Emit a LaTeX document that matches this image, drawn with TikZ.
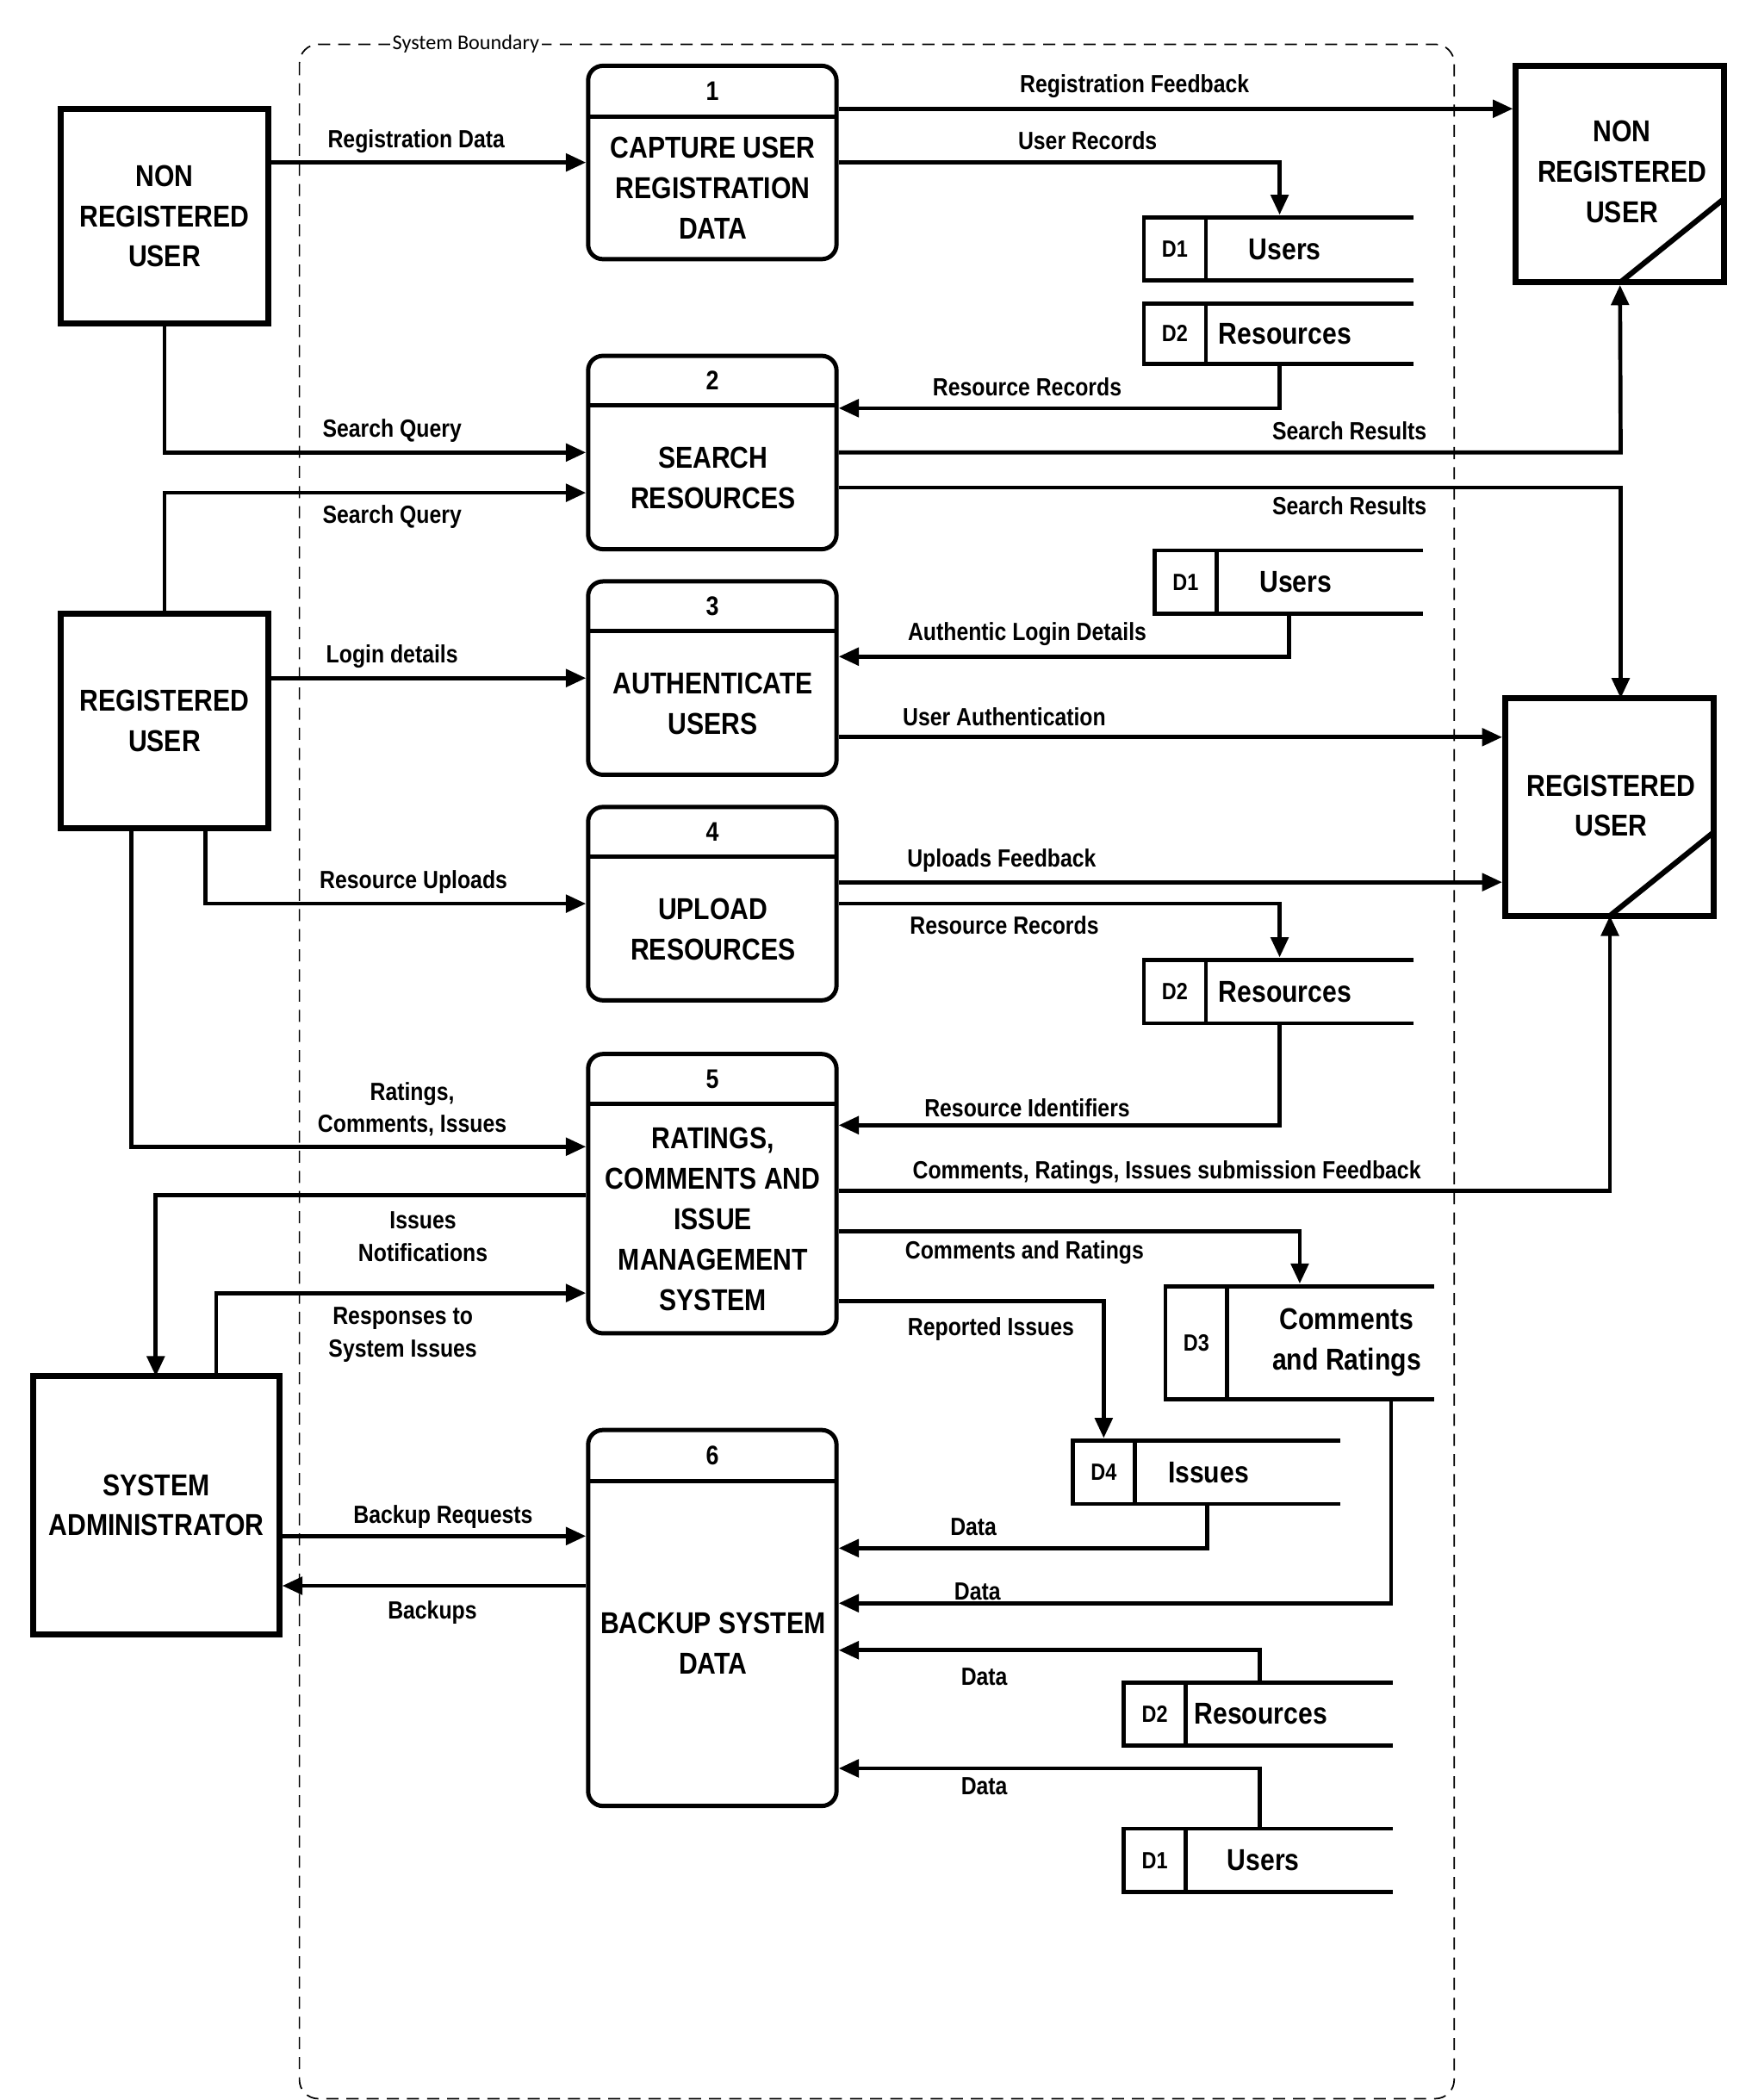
\documentclass[tikz,border=0pt]{standalone}
\usepackage{fontspec}
\setmainfont{Liberation Sans}
\newfontfamily\condfam[FakeStretch=0.86]{Liberation Sans}
\newfontfamily\sbfam{Carlito}
\usetikzlibrary{arrows.meta}
\newcommand\lblfont{\fontsize{18.5}{24}\selectfont\condfam\bfseries}
\newcommand\bxfont{\fontsize{22.5}{30}\selectfont\condfam\bfseries}
\tikzset{
 arr/.style={line width=3pt,-{Triangle[length=15pt,width=13pt]}},
 proc/.style={draw,line width=3.2pt,rounded corners=11pt,minimum width=185pt,inner sep=0pt},
 ext/.style={draw,line width=4.5pt,minimum width=155pt,minimum height=160pt,inner sep=0pt,align=center,font=\bxfont},
 lab/.style={font=\lblfont,align=center,inner sep=0pt},
 st/.style={line width=3pt}
}
% name x1 x2 ytop ybot div id text textx
\newcommand\dstore[9]{%
 \draw[st] (#3,#4)--(#2,#4)--(#2,#5)--(#3,#5);
 \draw[st] (#6,#4)--(#6,#5);
 \node[lab,font=\fontsize{17.5}{20}\selectfont\condfam\bfseries] (#1id) at ({(#2+#6)/2},{(#4+#5)/2}) {#7};
 \node[lab,font=\bxfont] (#1) at (#9,{(#4+#5)/2}) {#8};}
\newcommand\proc[5]{% name ytop ybot yline number
 \node[proc,minimum height={#2-#3}] (#1) at (530.5,{(#2+#3)/2}) {};
 \draw[line width=3pt] (438,#4)--(623,#4);
 \node[lab,font=\fontsize{20}{24}\selectfont\condfam\bfseries] (#1n) at (530.5,{(#2+#4)/2}) {#5};}
\begin{document}
\begin{tikzpicture}[x=1pt,y=1pt]
\useasboundingbox (0,0) rectangle (1300,-1564);
% boundary
\draw[dashed,line width=1.1pt,dash pattern=on 9pt off 6pt,rounded corners=14pt] (223,-33) rectangle (1083,-1563);
\node[fill=white,inner sep=2pt,font=\fontsize{15.5}{18}\selectfont\sbfam] (sb) at (347,-33) {System Boundary};
% processes
\proc{p1}{-49}{-193}{-87}{1}
\node[lab,font=\bxfont] at (531,-140) {CAPTURE USER\\REGISTRATION\\DATA};
\proc{p2}{-265}{-409}{-302}{2}
\node[lab,font=\bxfont] at (531,-356) {SEARCH\\RESOURCES};
\proc{p3}{-433}{-577}{-470}{3}
\node[lab,font=\bxfont] at (531,-524) {AUTHENTICATE\\USERS};
\proc{p4}{-601}{-745}{-638}{4}
\node[lab,font=\bxfont] at (531,-692) {UPLOAD\\RESOURCES};
\proc{p5}{-785}{-993}{-822}{5}
\node[lab,font=\bxfont] at (531,-908) {RATINGS,\\COMMENTS AND\\ISSUE\\MANAGEMENT\\SYSTEM};
\proc{p6}{-1065}{-1345}{-1103}{6}
\node[lab,font=\bxfont] at (531,-1224) {BACKUP SYSTEM\\DATA};
% externals
\node[ext] (nru) at (122.5,-161) {NON\\REGISTERED\\USER};
\node[ext] (ru) at (122.5,-537) {REGISTERED\\USER};
\node[ext,minimum width=183pt,minimum height=192pt] (sa) at (116.5,-1121) {SYSTEM\\ADMINISTRATOR};
\node[ext,minimum height=161pt] (nru2) at (1206.5,-129.5) {};
\node[lab,font=\bxfont] at (1208,-128) {NON\\REGISTERED\\USER};
\draw[line width=4pt] (1207,-210)--(1284,-148);
\node[ext,minimum height=162pt] (ru2) at (1198.5,-601) {};
\node[lab,font=\bxfont] at (1200,-600) {REGISTERED\\USER};
\draw[line width=4pt] (1199,-682)--(1276,-620);
% stores
\dstore{d1}{852}{1053}{-162}{-209}{898}{D1}{Users}{957}
\dstore{d2}{852}{1053}{-226}{-271}{898}{D2}{Resources}{957}
\dstore{d1b}{860}{1060}{-410}{-457}{906}{D1}{Users}{965}
\dstore{d2b}{852}{1053}{-715}{-762}{898}{D2}{Resources}{957}
\dstore{d3}{868}{1068}{-958}{-1042}{914}{D3}{Comments\\and Ratings}{1003}
\dstore{d4}{799}{998}{-1073}{-1120}{845}{D4}{Issues}{900}
\dstore{d2c}{837}{1037}{-1253}{-1300}{883}{D2}{Resources}{939}
\dstore{d1c}{837}{1037}{-1362}{-1409}{883}{D1}{Users}{941}
% arrows
\draw[arr] (nru.east|-0,-121) -- (p1.west|-0,-121);
\node[lab] at (310,-105) {Registration Data};
\draw[arr] (p1.east|-0,-81) -- (nru2.west|-0,-81);
\node[lab] at (845,-64) {Registration Feedback};
\draw[arr] (p1.east|-0,-121) -- (953,-121) -- (953,-160);
\node[lab] at (810,-105) {User Records};
\draw[arr] (953,-271) -- (953,-304) -- (p2.east|-0,-304);
\node[lab] at (765,-288) {Resource Records};
\draw[arr] (nru.south) -- (122.5,-337) -- (p2.west|-0,-337);
\node[lab] at (292,-321) {Search Query};
\draw[arr] (p2.east|-0,-337) -- (1207,-337) -- (nru2.south);
\node[lab] at (1005,-321) {Search Results};
\draw[arr] (ru.north) -- (122.5,-367) -- (p2.west|-0,-367);
\node[lab] at (292,-385) {Search Query};
\draw[arr] (p2.east|-0,-363) -- (1207,-363) -- (1207,-520);
\node[lab] at (1005,-377) {Search Results};
\draw[arr] (960,-457) -- (960,-489) -- (p3.east|-0,-489);
\node[lab] at (765,-472) {Authentic Login Details};
\draw[arr] (ru.east|-0,-505) -- (p3.west|-0,-505);
\node[lab] at (292,-489) {Login details};
\draw[arr] (p3.east|-0,-549) -- (ru2.west|-0,-549);
\node[lab] at (748,-534) {User Authentication};
\draw[arr] (153,-617) -- (153,-673) -- (p4.west|-0,-673);
\node[lab] at (308,-657) {Resource Uploads};
\draw[arr] (p4.east|-0,-657) -- (ru2.west|-0,-657);
\node[lab] at (746,-641) {Uploads Feedback};
\draw[arr] (p4.east|-0,-673) -- (953,-673) -- (953,-713);
\node[lab] at (748,-689) {Resource Records};
\draw[arr] (953,-762) -- (953,-838) -- (p5.east|-0,-838);
\node[lab] at (765,-825) {Resource Identifiers};
\draw[arr] (98,-617) -- (98,-854) -- (p5.west|-0,-854);
\node[lab] at (307,-826) {Ratings,\\Comments, Issues};
\draw[arr] (p5.east|-0,-887) -- (1199,-887) -- (1199,-682);
\node[lab] at (869,-873) {Comments, Ratings, Issues submission Feedback};
\draw[arr] (p5.west|-0,-890) -- (116,-890) -- (116,-1025);
\node[lab] at (315,-921) {Issues\\Notifications};
\draw[arr] (161,-1025) -- (161,-963) -- (p5.west|-0,-963);
\node[lab] at (300,-994) {Responses to\\System Issues};
\draw[arr] (p5.east|-0,-917) -- (968,-917) -- (968,-956);
\node[lab] at (763,-933) {Comments and Ratings};
\draw[arr] (p5.east|-0,-969) -- (822,-969) -- (822,-1071);
\node[lab] at (738,-990) {Reported Issues};
\draw[arr] (sa.east|-0,-1144) -- (p6.west|-0,-1144);
\node[lab] at (330,-1130) {Backup Requests};
\draw[arr] (p6.west|-0,-1181) -- (sa.east|-0,-1181);
\node[lab] at (322,-1201) {Backups};
\draw[arr] (899,-1120) -- (899,-1153) -- (p6.east|-0,-1153);
\node[lab] at (725,-1137) {Data};
\draw[arr] (1036,-1042) -- (1036,-1194) -- (p6.east|-0,-1194);
\node[lab] at (728,-1185) {Data};
\draw[arr] (938,-1253) -- (938,-1229) -- (p6.east|-0,-1229);
\node[lab] at (733,-1249) {Data};
\draw[arr] (938,-1362) -- (938,-1317) -- (p6.east|-0,-1317);
\node[lab] at (733,-1330) {Data};
\end{tikzpicture}
\end{document}
